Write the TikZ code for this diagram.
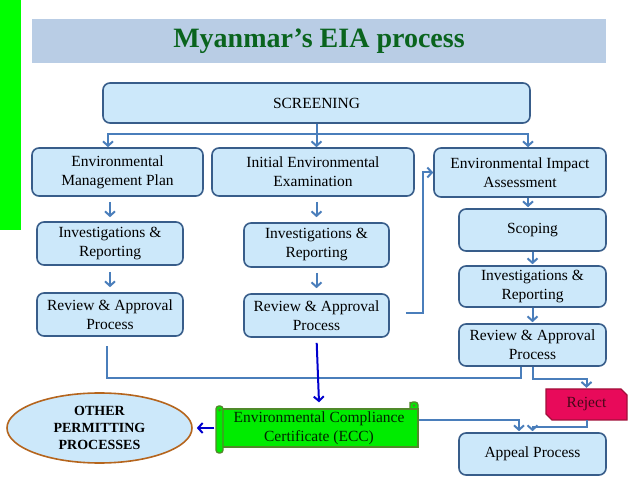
\documentclass[tikz,border=0pt]{standalone}
\usepackage{fontspec}
\setmainfont{Liberation Serif}
\usetikzlibrary{arrows.meta,calc,shapes.geometric}
\definecolor{boxfill}{RGB}{204,232,250}
\definecolor{boxline}{RGB}{56,93,138}
\definecolor{arrowc}{RGB}{74,126,187}
\definecolor{darkarrow}{RGB}{0,0,205}
\definecolor{titleband}{RGB}{185,205,229}
\definecolor{titlegreen}{RGB}{10,100,30}
\definecolor{limebar}{RGB}{0,255,0}
\definecolor{eccfill}{RGB}{0,236,0}
\definecolor{eccline}{RGB}{80,138,42}
\definecolor{rejfill}{RGB}{232,10,90}
\definecolor{rejline}{RGB}{160,16,58}
\definecolor{rejtext}{RGB}{70,8,24}
\definecolor{ellline}{RGB}{181,101,29}
\begin{document}
\begin{tikzpicture}[x=1pt,y=-1pt,
  box/.style={draw=boxline, fill=boxfill, line width=1.6pt, rounded corners=7pt,
    align=center, inner sep=0pt, font=\fontsize{15.5}{19}\selectfont},
  arr/.style={draw=arrowc, line width=2pt, -{Straight Barb[length=4.5pt,width=10pt]}},
  darr/.style={draw=darkarrow, line width=2pt, -{Straight Barb[length=4.5pt,width=10pt]}},
  conn/.style={draw=arrowc, line width=2pt},
  eccs/.style={draw=eccline, fill=eccfill, line width=1.4pt},
]
\useasboundingbox (0,0) rectangle (638,478);
\fill[white] (0,0) rectangle (638,478);

% left green bar and title band
\fill[limebar] (0,0) rectangle (21,230);
\fill[titleband] (32,19) rectangle (606,63);
\node[font=\bfseries\fontsize{28}{30}\selectfont, text=titlegreen] (title) at (319,41) {Myanmar’s EIA process};

% boxes
\node[box, minimum width=427pt, minimum height=40pt] (scr) at (316.5,103) {SCREENING};
\node[box, minimum width=171pt, minimum height=48pt] (emp) at (117.5,172) {Environmental\\Management Plan};
\node[box, minimum width=202pt, minimum height=48pt] (iee) at (313,172) {Initial Environmental\\Examination};
\node[box, minimum width=172pt, minimum height=49pt] (eia) at (520,172.5) {Environmental Impact\\Assessment};

\node[box, minimum width=146pt, minimum height=43pt] (inv1) at (110,243.5) {Investigations \&\\Reporting};
\node[box, minimum width=146pt, minimum height=43pt] (rev1) at (110,314.5) {Review \& Approval\\Process};
\node[box, minimum width=145pt, minimum height=44pt] (inv2) at (316.5,245) {Investigations \&\\Reporting};
\node[box, minimum width=145pt, minimum height=43pt] (rev2) at (316.5,315.5) {Review \& Approval\\Process};

\node[box, minimum width=147pt, minimum height=42pt] (scop) at (532.5,230) {Scoping};
\node[box, minimum width=147pt, minimum height=41pt] (inv3) at (532.5,286.5) {Investigations \&\\Reporting};
\node[box, minimum width=147pt, minimum height=42pt] (rev3) at (532.5,345) {Review \& Approval\\Process};
\node[box, minimum width=147pt, minimum height=42pt] (appeal) at (532.5,454) {Appeal Process};

% other permitting processes
\node[draw=ellline, fill=boxfill, line width=1.6pt, ellipse, minimum width=185pt, minimum height=70pt,
  inner sep=0pt, align=center, font=\bfseries\fontsize{14}{16.7}\selectfont] (other) at (99.5,428)
  {OTHER\\PERMITTING\\PROCESSES};

% ECC scroll
\draw[eccs, rounded corners=3pt] (410,409) -- (410,405) -- (410,402) -- (418,402) -- (418,409);
\node[eccs, rectangle, minimum width=198pt, minimum height=38pt, inner sep=0pt, align=center,
  font=\fontsize{15.5}{19}\selectfont, text=black!85!green] (ecc) at (319,428)
  {Environmental Compliance\\Certificate (ECC)};
\draw[eccs, rounded corners=3pt] (216,406) rectangle (223,453);
\fill[eccline] (219.5,410) circle (1.6);
\fill[eccline] (414,405.5) circle (1.6);

% reject
\filldraw[draw=rejline, fill=rejfill, line width=1.4pt]
  (546,389) -- (621,389) -- (627,395) -- (627,420) -- (552,420) -- (546,414) -- cycle;
\node[inner sep=0pt, minimum width=81pt, minimum height=31pt, text=rejtext,
  font=\fontsize{15.5}{19}\selectfont] (reject) at (586.5,404.5) {Reject};

% connectors: screening fan-out
\draw[conn] (scr.south) -- ++(0,10) coordinate (fan);
\draw[arr] (fan) -| (emp.north -| 108,0);
\draw[arr] (fan) -- (iee.north -| fan);
\draw[arr] (fan) -| (eia.north -| 528,0);

% EMP column
\draw[arr, shorten <=5pt, shorten >=4pt] (emp.south -| inv1.north) -- (inv1.north);
\draw[arr, shorten <=6pt, shorten >=5pt] (inv1.south) -- (rev1.north);
% IEE column
\draw[arr, shorten <=5pt, shorten >=5pt] (iee.south -| inv2.north) -- (inv2.north);
\draw[arr, shorten <=5pt, shorten >=5pt] (inv2.south) -- (rev2.north);
\draw[arr] ($(rev2.east)+(16,-2)$) -- ++(17,0) |- (eia.west);
% EIA column
\draw[arr, shorten >=1pt] (eia.south -| 528,0) -- (scop.north -| 528,0);
\draw[arr, shorten >=1pt] (scop.south) -- (inv3.north);
\draw[arr, shorten >=1pt] (inv3.south) -- (rev3.north);

% joining line
\coordinate (jend) at (107,346);
\draw[conn] ($(rev3.south)+(-11.5,0)$) -- ++(0,11) -| (jend);
% to reject
\draw[arr, shorten >=1pt] (rev3.south) -- ++(0,12) -| (reject.north);

% ECC links
\draw[darr, shorten <=5pt] (rev2.south) -- ([yshift=6pt]ecc.north);
\draw[darr, shorten <=4pt, shorten >=4pt] ([xshift=-1pt]ecc.west) -- (other.east);
\draw[arr, shorten >=1pt] ($(ecc.east)+(0,-8)$) -| ($(appeal.north)+(-13.5,0)$);
\draw[arr, shorten >=1pt] (reject.south) -- ++(0,7) -| (appeal.north);
\end{tikzpicture}
\end{document}
